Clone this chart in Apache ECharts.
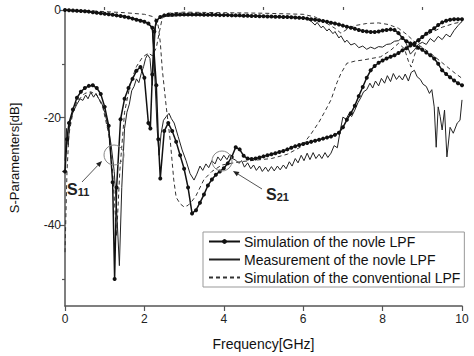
<!DOCTYPE html>
<html><head><meta charset="utf-8">
<script src="https://cdn.jsdelivr.net/npm/echarts@6/dist/echarts.min.js"></script>
<style>html,body{margin:0;padding:0;background:#fff}#c{width:474px;height:356px}</style>
</head><body><div id="c"></div>
<script>
// ---- data: [frequency GHz, dB] ----
const seriesNames = ['Simulation of the novle LPF','Measurement of the novle LPF','Simulation of the conventional LPF'];
const xTickLabels = [0,2,4,6,8,10];
const yTickLabels = [0,-20,-40];

const simS21 = [[0,0],[0.1,-0.05],[0.2,-0.1],[0.3,-0.15],[0.4,-0.2],[0.5,-0.25],[0.6,-0.3],[0.7,-0.4],[0.8,-0.5],[0.9,-0.6],[1.0,-0.7],[1.1,-0.8],[1.2,-0.9],[1.3,-1.0],[1.4,-1.1],[1.5,-1.25],[1.6,-1.4],[1.7,-1.6],[1.8,-1.8],[1.9,-2.0],[2.0,-2.2],[2.1,-2.5],[2.2,-3.3],[2.3,-14],[2.35,-24],[2.4,-31.3],[2.5,-22.5],[2.6,-21],[2.7,-22.5],[2.8,-24.5],[2.9,-27],[3.0,-29.5],[3.1,-33],[3.2,-37.8],[3.3,-37.2],[3.4,-35.8],[3.5,-34.3],[3.6,-32.6],[3.7,-31.5],[3.8,-30.6],[3.9,-30],[4.0,-29.4],[4.1,-28.5],[4.2,-27.3],[4.3,-25.5],[4.4,-25.9],[4.5,-27.1],[4.6,-27.6],[4.7,-27.7],[4.8,-27.6],[4.9,-27.4],[5.0,-27.2],[5.1,-27],[5.2,-26.8],[5.3,-26.6],[5.4,-26.4],[5.5,-26.2],[5.6,-25.9],[5.7,-25.6],[5.8,-25.3],[5.9,-25.1],[6.0,-24.9],[6.1,-24.7],[6.2,-24.5],[6.3,-24.3],[6.4,-24.1],[6.5,-23.9],[6.6,-23.7],[6.7,-23.5],[6.8,-23.2],[6.9,-22.8],[7.0,-21.8],[7.1,-20.4],[7.2,-19.2],[7.3,-17.8],[7.4,-16],[7.5,-14.3],[7.6,-12.6],[7.7,-11.2],[7.8,-10.4],[7.9,-9.8],[8.0,-9.4],[8.1,-9.0],[8.2,-8.7],[8.3,-8.4],[8.4,-8.0],[8.5,-7.5],[8.6,-7.1],[8.7,-6.6],[8.8,-6.2],[8.9,-5.6],[9.0,-5.0],[9.1,-4.4],[9.2,-3.9],[9.3,-3.4],[9.4,-2.8],[9.5,-2.3],[9.6,-2.0],[9.7,-1.8],[9.8,-1.7],[9.9,-1.7],[10,-1.7]];

const simS11 = [[0,-30],[0.05,-24],[0.1,-21],[0.2,-18.5],[0.3,-16.3],[0.4,-15.2],[0.5,-14.5],[0.6,-14.1],[0.7,-14.0],[0.8,-14.5],[0.9,-15.6],[1.0,-18],[1.1,-21.5],[1.2,-32],[1.25,-50],[1.3,-33],[1.4,-20.3],[1.5,-16.5],[1.6,-14.5],[1.7,-12.8],[1.8,-11.3],[1.9,-10.6],[2.0,-12.6],[2.1,-21],[2.15,-22],[2.2,-12],[2.25,-4],[2.3,-2],[2.4,-1.3],[2.5,-1.0],[2.6,-0.9],[2.7,-0.9],[2.8,-0.85],[2.9,-0.85],[3.0,-0.85],[3.1,-0.85],[3.2,-0.85],[3.3,-0.85],[3.4,-0.85],[3.5,-0.9],[3.6,-0.9],[3.7,-0.9],[3.8,-0.9],[3.9,-0.95],[4.0,-0.95],[4.1,-0.95],[4.2,-1.0],[4.3,-1.0],[4.4,-1.0],[4.5,-1.05],[4.6,-1.05],[4.7,-1.1],[4.8,-1.1],[4.9,-1.15],[5.0,-1.15],[5.1,-1.2],[5.2,-1.2],[5.3,-1.25],[5.4,-1.25],[5.5,-1.3],[5.6,-1.3],[5.7,-1.35],[5.8,-1.4],[5.9,-1.45],[6.0,-1.5],[6.1,-1.6],[6.2,-1.7],[6.3,-1.8],[6.4,-1.9],[6.5,-2.05],[6.6,-2.2],[6.7,-2.35],[6.8,-2.5],[6.9,-2.7],[7.0,-2.9],[7.1,-3.1],[7.2,-3.3],[7.3,-3.5],[7.4,-3.7],[7.5,-3.9],[7.6,-4.0],[7.7,-4.1],[7.8,-4.1],[7.9,-4.0],[8.0,-3.8],[8.1,-3.7],[8.2,-3.6],[8.3,-3.7],[8.4,-4.3],[8.5,-5.2],[8.6,-5.8],[8.7,-6.2],[8.8,-6.5],[8.9,-7],[9.0,-7.4],[9.1,-7.9],[9.2,-8.4],[9.3,-9],[9.4,-10],[9.5,-11.2],[9.6,-11.9],[9.7,-12.5],[9.8,-13.1],[9.9,-13.6],[10,-14]];

const measS21 = [[0,-0.05],[0.3,-0.2],[0.6,-0.4],[0.9,-0.6],[1.2,-0.9],[1.5,-1.2],[1.8,-1.7],[2.0,-2.1],[2.1,-2.5],[2.2,-3.5],[2.26,-12],[2.32,-22],[2.37,-27],[2.42,-23],[2.48,-20.5],[2.55,-19.8],[2.62,-19.2],[2.68,-20.2],[2.75,-21],[2.85,-23.5],[2.95,-26],[3.05,-28],[3.15,-30.4],[3.25,-31.6],[3.32,-30.5],[3.4,-29],[3.47,-29.8],[3.55,-28.6],[3.62,-29.3],[3.7,-28],[3.78,-28.6],[3.85,-27.3],[3.92,-28],[4.0,-27],[4.08,-27.8],[4.15,-26.8],[4.22,-27.6],[4.3,-27.9],[4.38,-28.5],[4.45,-28],[4.52,-29.2],[4.6,-28.4],[4.68,-29.5],[4.75,-28.8],[4.82,-29.8],[4.9,-29],[4.97,-30],[5.05,-29.2],[5.12,-30],[5.2,-29.1],[5.27,-29.9],[5.35,-29],[5.42,-29.7],[5.5,-28.8],[5.57,-29.5],[5.65,-28.2],[5.72,-29],[5.8,-27.6],[5.87,-28.4],[5.95,-27],[6.02,-28],[6.1,-26.6],[6.17,-27.8],[6.25,-26.5],[6.32,-27.6],[6.4,-26.8],[6.47,-27.6],[6.55,-26.5],[6.62,-27.4],[6.7,-26.6],[6.78,-25.2],[6.86,-25.6],[6.93,-22.5],[7.0,-19.9],[7.08,-20.3],[7.15,-19.3],[7.22,-19.8],[7.3,-18.6],[7.38,-17.2],[7.45,-16.3],[7.52,-15.2],[7.6,-14.8],[7.68,-13.6],[7.75,-14.5],[7.82,-13.2],[7.9,-14.1],[7.97,-12.7],[8.05,-13.6],[8.12,-12.2],[8.2,-13.3],[8.27,-11.8],[8.35,-12.9],[8.42,-12.2],[8.5,-13],[8.57,-11.9],[8.65,-13.2],[8.72,-11.6],[8.8,-11.2],[8.87,-12.4],[8.95,-12.9],[9.02,-13.8],[9.1,-14.2],[9.18,-15.5],[9.24,-14.8],[9.3,-18],[9.35,-25.5],[9.4,-18],[9.45,-19.8],[9.5,-22.3],[9.56,-18.6],[9.62,-27.3],[9.7,-21.8],[9.78,-22.9],[9.88,-21],[9.95,-20.5],[10,-16.7]];

const measS11 = [[0,-28],[0.04,-22],[0.08,-25],[0.12,-21],[0.2,-19],[0.3,-17.5],[0.38,-16.5],[0.45,-16.8],[0.52,-15.8],[0.58,-16.5],[0.65,-15.3],[0.72,-16.2],[0.78,-15.5],[0.85,-16.5],[0.92,-17.2],[1.0,-19],[1.08,-21.5],[1.16,-25],[1.24,-30],[1.3,-37],[1.37,-47.5],[1.43,-33],[1.5,-22],[1.56,-19],[1.62,-17.5],[1.68,-15],[1.74,-14.2],[1.8,-12.8],[1.86,-13.5],[1.92,-11.8],[1.98,-10.5],[2.03,-9],[2.08,-8.3],[2.14,-9],[2.2,-14],[2.24,-8],[2.28,-3],[2.35,-1.6],[2.5,-1.2],[3.0,-1.0],[3.5,-1.0],[4.0,-1.0],[4.5,-1.1],[5.0,-1.2],[5.6,-1.3],[6.0,-1.5],[6.1,-1.7],[6.2,-2.1],[6.3,-2.8],[6.35,-2.3],[6.45,-3.3],[6.5,-3.0],[6.6,-3.9],[6.65,-3.5],[6.75,-4.4],[6.8,-4.0],[6.9,-5.2],[6.95,-4.8],[7.05,-6.0],[7.1,-5.6],[7.2,-6.5],[7.3,-6.2],[7.4,-7.0],[7.5,-6.7],[7.6,-7.3],[7.7,-6.9],[7.8,-7.2],[7.9,-6.8],[8.0,-6.9],[8.1,-6.4],[8.2,-6.3],[8.3,-5.8],[8.4,-5.7],[8.5,-5.1],[8.6,-6.3],[8.7,-8.2],[8.8,-7.4],[8.9,-6.4],[9.0,-6.0],[9.1,-6.4],[9.2,-5.3],[9.3,-5.9],[9.4,-4.9],[9.5,-5.5],[9.6,-4.5],[9.7,-5.0],[9.8,-3.8],[9.9,-2.9],[10,-2.1]];

const convS21 = [[0,0],[0.5,-0.1],[1.0,-0.3],[1.5,-0.5],[2.0,-0.8],[2.2,-1.2],[2.3,-1.8],[2.35,-3],[2.4,-6],[2.45,-11],[2.55,-18],[2.65,-24.2],[2.74,-31.6],[2.8,-34.8],[2.9,-36],[3.0,-36.6],[3.1,-36.3],[3.2,-35.5],[3.3,-34.5],[3.5,-31.5],[3.7,-30],[3.95,-28.8],[4.4,-28.2],[5.2,-27.6],[5.6,-26.8],[5.95,-25.4],[6.2,-23],[6.4,-20.8],[6.55,-18.8],[6.7,-16.7],[6.85,-13.5],[6.95,-11.8],[7.1,-9.9],[7.3,-9.5],[7.5,-9.3],[7.95,-8.7],[8.2,-7.5],[8.4,-6.2],[8.55,-7.2],[8.65,-9.5],[8.72,-10.6],[8.8,-8.5],[8.9,-6.2],[9.0,-5],[9.2,-4.3],[9.5,-3.2],[9.8,-2.5],[10,-2.2]];

const convS11 = [[0,-45],[0.05,-30],[0.1,-23],[0.2,-19],[0.3,-17],[0.5,-15.5],[0.65,-15.2],[0.8,-15.8],[0.95,-18],[1.1,-23],[1.2,-30],[1.3,-42],[1.38,-30],[1.5,-19],[1.65,-13.5],[1.8,-10.5],[1.95,-8.8],[2.1,-8],[2.2,-8.5],[2.3,-7],[2.38,-4],[2.45,-1.5],[2.6,-0.6],[3.0,-0.4],[4.0,-0.5],[5.0,-0.6],[6.0,-0.8],[6.3,-1.3],[6.6,-2.5],[6.8,-3.4],[6.95,-4.3],[7.1,-3.6],[7.3,-2.9],[7.6,-2.5],[7.9,-2.4],[8.15,-2.7],[8.4,-3.4],[8.6,-4.5],[8.85,-6.2],[9.2,-8],[9.5,-9.8],[9.8,-11.6],[10,-12.7]];

const FONT = 'Arial, "Liberation Sans", sans-serif';
const chart = echarts.init(document.getElementById('c'), null, {renderer:'svg'});

function simSeries(data){
  return {name:seriesNames[0], type:'line', data, z:5, symbol:'circle', symbolSize:4, showSymbol:true,
    lineStyle:{color:'#111', width:1.5}, itemStyle:{color:'#111'}, emphasis:{disabled:true}};
}
function measSeries(data){
  return {name:seriesNames[1], type:'line', data, z:4, symbol:'none', showSymbol:false,
    lineStyle:{color:'#222', width:1}, itemStyle:{color:'#222'}, emphasis:{disabled:true}};
}
function convSeries(data){
  return {name:seriesNames[2], type:'line', data, z:3, symbol:'none', showSymbol:false,
    lineStyle:{color:'#333', width:1, type:[4,3]}, itemStyle:{color:'#333'}, emphasis:{disabled:true}};
}

function arrow(x1,y1,x2,y2){
  const dx=x2-x1, dy=y2-y1, L=Math.hypot(dx,dy), ux=dx/L, uy=dy/L, px=-uy, py=ux;
  const bx=x2-6*ux, by=y2-6*uy;
  return [
    {type:'line', shape:{x1,y1,x2:bx,y2:by}, style:{stroke:'#555', lineWidth:1}},
    {type:'polygon', shape:{points:[[x2,y2],[bx+2.5*px,by+2.5*py],[bx-2.5*px,by-2.5*py]]}, style:{fill:'#222'}}
  ];
}

const axisCommon = {
  axisLine:{show:true, onZero:false, lineStyle:{color:'#555', width:1.5}},
  splitLine:{show:false}
};

chart.setOption({
  animation:false,
  backgroundColor:'#fff',
  grid:{left:62, right:12, top:10, bottom:49},
  legend:{
    data:[
      {name:seriesNames[0]},
      {name:seriesNames[1], itemStyle:{opacity:0}},
      {name:seriesNames[2], itemStyle:{opacity:0}}
    ],
    orient:'vertical', left:203, top:232,
    itemWidth:31, itemHeight:6, itemGap:1,
    padding:[1,4,1,5], borderColor:'#999', borderWidth:1, backgroundColor:'#fff',
    textStyle:{fontFamily:FONT, fontSize:14, lineHeight:17, color:'#111', padding:[0,0,0,-1]},
    selectedMode:false
  },
  xAxis:[
    Object.assign({}, axisCommon, {
      type:'value', min:0, max:10,
      name:'Frequency[GHz]', nameLocation:'middle', nameGap:31,
      nameTextStyle:{fontFamily:FONT, fontSize:14, color:'#111'},
      axisTick:{show:true, inside:false, length:5, customValues:xTickLabels, lineStyle:{color:'#555', width:1.2}},
      axisLabel:{customValues:xTickLabels, fontFamily:FONT, fontSize:12, color:'#222', margin:7}
    }),
    {type:'value', min:0, max:10, position:'bottom',
      axisLine:{show:false}, splitLine:{show:false}, axisLabel:{show:false},
      axisTick:{show:true, inside:true, length:3, customValues:[1,3,5,7,9], lineStyle:{color:'#555', width:1.2}}}
  ],
  yAxis:[
    Object.assign({}, axisCommon, {
      type:'value', min:-55, max:0,
      name:'S-Paramenters[dB]', nameLocation:'middle', nameGap:44,
      nameTextStyle:{fontFamily:FONT, fontSize:13, color:'#111'},
      axisTick:{show:true, inside:false, length:5, customValues:yTickLabels, lineStyle:{color:'#555', width:1.2}},
      axisLabel:{customValues:yTickLabels, fontFamily:FONT, fontSize:12, color:'#222', margin:4}
    }),
    {type:'value', min:-55, max:0, position:'left',
      axisLine:{show:false}, splitLine:{show:false}, axisLabel:{show:false},
      axisTick:{show:true, inside:false, length:3, customValues:[-10,-30,-50], lineStyle:{color:'#555', width:1.2}}}
  ],
  series:[
    convSeries(convS11), convSeries(convS21),
    measSeries(measS11), measSeries(measS21),
    simSeries(simS11), simSeries(simS21)
  ],
  graphic:[
    {type:'circle', shape:{cx:114, cy:155, r:10}, style:{fill:'none', stroke:'#888', lineWidth:1}, z:10},
    {type:'circle', shape:{cx:222, cy:161, r:10}, style:{fill:'none', stroke:'#888', lineWidth:1}, z:10},
    ...arrow(82,182,102,161).map(e=>Object.assign(e,{z:10})),
    ...arrow(262,189,233,171).map(e=>Object.assign(e,{z:10})),
    {type:'text', left:67, top:181, z:10, style:{
      text:'{s|S}{n|11}', rich:{s:{fontFamily:FONT, fontSize:16, fontWeight:'bold', fill:'#222'}, n:{fontFamily:FONT, fontSize:11, fontWeight:'bold', fill:'#222', padding:[5,0,0,0]}}}},
    {type:'text', left:266, top:186, z:10, style:{
      text:'{s|S}{n|21}', rich:{s:{fontFamily:FONT, fontSize:16, fontWeight:'bold', fill:'#222'}, n:{fontFamily:FONT, fontSize:11, fontWeight:'bold', fill:'#222', padding:[5,0,0,0]}}}}
  ]
});
</script></body></html>
